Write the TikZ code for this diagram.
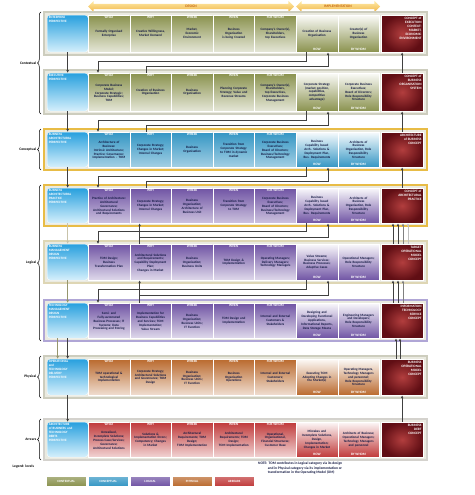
\documentclass[tikz,border=0pt]{standalone}
\usepackage{fontspec}
\setmainfont{Carlito}
\usetikzlibrary{arrows.meta,shapes.arrows,decorations.pathreplacing}

\definecolor{ctx}{RGB}{138,146,78}
\definecolor{cpt}{RGB}{52,150,196}
\definecolor{lgc}{RGB}{112,84,164}
\definecolor{phy}{RGB}{186,106,46}
\definecolor{arr}{RGB}{192,58,58}
\definecolor{navy}{RGB}{18,24,66}
\definecolor{wine}{RGB}{96,14,20}
\definecolor{wineL}{RGB}{178,62,62}
\definecolor{sky}{RGB}{40,160,222}
\definecolor{skyL}{RGB}{214,240,252}
\definecolor{linegray}{RGB}{64,64,64}
\definecolor{gold}{RGB}{232,188,70}
\definecolor{dsgn}{RGB}{196,100,14}
\definecolor{framegray}{RGB}{205,205,190}
\definecolor{framefill}{RGB}{234,234,224}
\definecolor{frbeige}{RGB}{222,214,180}
\definecolor{frlilac}{RGB}{176,166,214}
\definecolor{frlight}{RGB}{212,210,205}
\definecolor{arrpale}{RGB}{200,195,170}
\definecolor{arrolive}{RGB}{150,150,110}
\definecolor{bandtop}{RGB}{255,236,170}
\definecolor{bandbot}{RGB}{240,180,70}

\tikzset{
  cell/.style={draw=white, line width=0.3pt, anchor=north west, minimum width=41.6pt,
    inner sep=0.5pt, text width=39pt, align=center, text=navy,
    font=\fontsize{3.3}{3.8}\selectfont\bfseries},
  tfill/.style={top color=#1, bottom color=#1!22},
  hfill/.style={top color=#1!4, bottom color=#1},
  hdr/.style={anchor=north, inner sep=1.2pt, text=white, font=\fontsize{3.4}{4}\selectfont\bfseries},
  ftr/.style={anchor=south, inner sep=1.2pt, text=white, font=\fontsize{3.4}{4}\selectfont\bfseries},
  persp/.style={anchor=north west, rounded corners=3pt, minimum width=41pt,
    top color=sky, bottom color=skyL, draw=white, line width=0.3pt},
  ptxt/.style={anchor=north west, inner sep=1.6pt, text width=38pt, align=left, text=white,
    font=\fontsize{3.3}{3.9}\selectfont\bfseries},
  concept/.style={anchor=north west, minimum width=42pt, inner color=wineL, outer color=wine,
    draw=white, line width=0.3pt},
  ctxt/.style={anchor=north east, inner sep=1.6pt, align=right, text=white,
    font=\fontsize{3.4}{4.1}\selectfont\bfseries},
  rowbox/.style={draw=#1, line width=1.2pt, fill=framefill},
  conn/.style={draw=linegray, line width=0.7pt},
  tip/.style={-{Latex[length=2.8pt,width=2.6pt]}},
  lvl/.style={text=black, font=\fontsize{3.6}{4.2}\selectfont\bfseries, inner sep=0.5pt},
  lbrace/.style={decorate, decoration={brace, amplitude=3.5pt}, line width=0.5pt},
  lbox/.style={anchor=north west, minimum width=40pt, minimum height=10pt, inner sep=0pt,
    text=white, font=\fontsize{3.2}{3.8}\selectfont\bfseries, draw=white, line width=0.3pt},
  bigarrow/.style={double arrow, double arrow head extend=3pt, minimum width=10pt, inner sep=0.5pt,
    top color=bandtop, bottom color=bandbot, text=dsgn, font=\fontsize{3.6}{4.2}\selectfont\bfseries}
}

\begin{document}
\begin{tikzpicture}[x=1pt, y=-1pt]
\useasboundingbox (0,0) rectangle (474,495);

% design / implementation
\node[bigarrow, minimum height=206pt, text height=3pt, text depth=1pt] (design) at (191,6.5) {DESIGN};
\node[bigarrow, minimum height=84pt, text height=3pt, text depth=1pt] (implem) at (338,6.5) {IMPLEMENTATION};

% row 1 -- enterprise
\draw[rowbox=framegray] (44,12) rectangle (427,55);
\node[persp, minimum height=37pt, label={[ptxt]north west:{ENTERPRISE\\PERSPECTIVE}}] (r1p) at (47,15) {};
\foreach \n/\hd/\txt [count=\i from 0] in {what/WHAT/{Formally Organised\\Enterprise},
    why/WHY/{Creative Willingness,\\Market Demand}, where/WHERE/{Market,\\Economic\\Environment},
    when/WHEN/{Business\\Organisation\\is being Created}, forwhom/FOR WHOM/{Company's Owner(s),\\Shareholders,\\top Executives}}
  \node[cell, tfill=ctx, minimum height=37pt, label={[hdr]north:\hd}] (r1\n) at ({88+41.6*\i},15) {\txt};
\node[cell, hfill=ctx, minimum height=37pt, label={[ftr]south:HOW}] (r1how) at (296,15) {Creation of Business\\Organisation};
\node[cell, hfill=ctx, minimum height=37pt, label={[ftr]south:BY WHOM}] (r1bywhom) at (337.6,15) {Creator(s) of\\Business\\Organisation};
\node[concept, minimum height=37pt, label={[ctxt]north east:{CONCEPT of\\EXECUTION\\CONTEXT:\\MARKET,\\ECONOMIC\\ENVIRONMENT}}] (r1c) at (381,15) {};

% row 2 -- executive
\draw[rowbox=framegray] (44,70) rectangle (427,114);
\node[persp, minimum height=38pt, label={[ptxt]north west:{EXECUTIVE\\PERSPECTIVE}}] (r2p) at (47,73) {};
\foreach \n/\hd/\txt [count=\i from 0] in {what/WHAT/{\\Corporate Business\\Model;\\Corporate Strategic;\\Business Capabilities;\\TOM},
    why/WHY/{Creation of Business\\Organisation}, where/WHERE/{Business\\Organisation},
    when/WHEN/{Planning Corporate\\Strategy; Value and\\Revenue Streams},
    forwhom/FOR WHOM/{\\Company's Owner(s),\\Shareholders,\\top Executives,\\Corporate Business\\Management}}
  \node[cell, tfill=ctx, minimum height=38pt, label={[hdr]north:\hd}] (r2\n) at ({88+41.6*\i},73) {\txt};
\node[cell, hfill=ctx, minimum height=38pt, label={[ftr]south:HOW}] (r2how) at (296,73) {Corporate Strategy\\(market position,\\capabilities,\\competitive\\advantage)\\[3pt]};
\node[cell, hfill=ctx, minimum height=38pt, label={[ftr]south:BY WHOM}] (r2bywhom) at (337.6,73) {Corporate Business\\Executives;\\Board of Directors;\\Role Responsibility\\Structure\\[3pt]};
\node[concept, minimum height=38pt, label={[ctxt]north east:{CONCEPT of\\BUSINESS\\ORGANISATION\\SYSTEM}}] (r2c) at (381,73) {};

% row 3 -- business architectural
\draw[rowbox=gold] (44,129) rectangle (427,170);
\node[persp, minimum height=35pt, label={[ptxt]north west:{BUSINESS\\ARCHITECTURAL\\PERSPECTIVE}}] (r3p) at (47,132) {};
\foreach \n/\hd/\txt [count=\i from 0] in {what/WHAT/{\\Architecture of\\Business:\\Intrinsic Architecture;\\Practice; Governance;\\Implementation -- TOM},
    why/WHY/{Corporate Strategy;\\Changes in Market;\\Internal Changes}, where/WHERE/{Business\\Organisation},
    when/WHEN/{\\Transition from\\Corporate Strategy\\to TOM in dynamic\\market},
    forwhom/FOR WHOM/{\\Corporate Business\\Executives;\\Board of Directors;\\Business/Technology\\Management}}
  \node[cell, top color=cpt, bottom color=cpt!45, minimum height=35pt, label={[hdr]north:\hd}] (r3\n) at ({88+41.6*\i},132) {\txt};
\node[cell, hfill=cpt, minimum height=35pt, label={[ftr]south:HOW}] (r3how) at (296,132) {Business\\Capability based\\Arch. Solutions \&\\Deployment Plan,\\Bus. Requirements\\[3pt]};
\node[cell, hfill=cpt, minimum height=35pt, label={[ftr]south:BY WHOM}] (r3bywhom) at (337.6,132) {Architects of\\Business\\Organisation, Role\\Responsibility\\Structure\\[3pt]};
\node[concept, minimum height=35pt, label={[ctxt]north east:{ARCHITECTURE\\of BUSINESS\\CONCEPT}}] (r3c) at (381,132) {};

% row 4 -- business architectural practice
\draw[rowbox=gold] (44,185) rectangle (427,226);
\node[persp, minimum height=35pt, label={[ptxt]north west:{BUSINESS\\ARCHITECTURAL\\PRACTICE\\PERSPECTIVE}}] (r4p) at (47,188) {};
\foreach \n/\hd/\txt [count=\i from 0] in {what/WHAT/{\\Practice of Architecture:\\Architectural\\Governance;\\Architectural Solutions\\and Requirements},
    why/WHY/{Corporate Strategy;\\Changes in Market;\\Internal Changes},
    where/WHERE/{\\Business\\Organisation;\\Architecture of\\Business Unit},
    when/WHEN/{Transition from\\Corporate Strategy\\to TOM},
    forwhom/FOR WHOM/{\\Corporate Business\\Executives;\\Board of Directors;\\Business/Technology\\Management}}
  \node[cell, top color=lgc, bottom color=lgc!35, minimum height=35pt, label={[hdr]north:\hd}] (r4\n) at ({88+41.6*\i},188) {\txt};
\node[cell, hfill=lgc, minimum height=35pt, label={[ftr]south:HOW}] (r4how) at (296,188) {Business\\Capability based\\Arch. Solutions \&\\Deployment Plan,\\Bus. Requirements\\[3pt]};
\node[cell, hfill=lgc, minimum height=35pt, label={[ftr]south:BY WHOM}] (r4bywhom) at (337.6,188) {Architects of\\Business\\Organisation, Role\\Responsibility\\Structure\\[3pt]};
\node[concept, minimum height=35pt, label={[ctxt]north east:{CONCEPT of\\ARCHITECTURAL\\PRACTICE}}] (r4c) at (381,188) {};

% row 5 -- business management design
\draw[rowbox=frbeige] (44,241) rectangle (427,283);
\node[persp, minimum height=36pt, label={[ptxt]north west:{BUSINESS\\MANAGEMENT\\DESIGN\\PERSPECTIVE}}] (r5p) at (47,244) {};
\foreach \n/\hd/\txt [count=\i from 0] in {what/WHAT/{TOM Design;\\Business\\Transformation Plan},
    why/WHY/{\\Architectural Solutions\\and Requirements;\\Capability Deployment\\Plan;\\Changes in Market},
    where/WHERE/{Business\\Organisation;\\Business Units},
    when/WHEN/{TOM Design \&\\Implementation},
    forwhom/FOR WHOM/{Operating Managers;\\Delivery Managers;\\Technology Managers}}
  \node[cell, tfill=lgc, minimum height=36pt, label={[hdr]north:\hd}] (r5\n) at ({88+41.6*\i},244) {\txt};
\node[cell, hfill=lgc, minimum height=36pt, label={[ftr]south:HOW}] (r5how) at (296,244) {Value Streams;\\Business Services;\\Business Processes;\\Adaptive Cases\\[3pt]};
\node[cell, hfill=lgc, minimum height=36pt, label={[ftr]south:BY WHOM}] (r5bywhom) at (337.6,244) {Operational Managers;\\Role Responsibility\\Structure\\[3pt]};
\node[concept, minimum height=36pt, label={[ctxt]north east:{TARGET\\OPERATIONAL\\MODEL\\CONCEPT}}] (r5c) at (381,244) {};

% row 6 -- technology management design
\draw[rowbox=frlilac] (44,300) rectangle (427,341);
\node[persp, minimum height=35pt, label={[ptxt]north west:{TECHNOLOGY\\MANAGEMENT\\DESIGN\\PERSPECTIVE}}] (r6p) at (47,303) {};
\foreach \n/\hd/\txt [count=\i from 0] in {what/WHAT/{\\Semi- and\\Fully-automated\\Business Processes; IT\\Systems; Data\\Processing and Storing},
    why/WHY/{\\Implementation for\\Business Capabilities\\and Services; TOM\\Implementation;\\Value Stream},
    where/WHERE/{\\Business\\Organisation;\\Business Units;\\IT Function},
    when/WHEN/{TOM Design and\\Implementation},
    forwhom/FOR WHOM/{Internal and External\\Customers \&\\Stakeholders}}
  \node[cell, tfill=lgc, minimum height=35pt, label={[hdr]north:\hd}] (r6\n) at ({88+41.6*\i},303) {\txt};
\node[cell, hfill=lgc, minimum height=35pt, label={[ftr]south:HOW}] (r6how) at (296,303) {Designing and\\Developing Functional\\Applications,\\Informational Reports,\\Data Storage Means\\[3pt]};
\node[cell, hfill=lgc, minimum height=35pt, label={[ftr]south:BY WHOM}] (r6bywhom) at (337.6,303) {Engineering Managers\\and Developers;\\Role Responsibility\\Structure\\[3pt]};
\node[concept, minimum height=35pt, label={[ctxt]north east:{INFORMATION\\TECHNOLOGY\\SERVICE\\CONCEPT}}] (r6c) at (381,303) {};

% row 7 -- operational and technology delivery
\draw[rowbox=framegray] (44,356) rectangle (427,398);
\node[persp, minimum height=36pt, label={[ptxt]north west:{OPERATIONAL\\and\\TECHNOLOGY\\DELIVERY\\PERSPECTIVE}}] (r7p) at (47,359) {};
\foreach \n/\hd/\txt [count=\i from 0] in {what/WHAT/{TOM operational \&\\technological\\Implementation},
    why/WHY/{Corporate Strategy;\\Architectural Solutions\\and Governance; TOM\\Design},
    where/WHERE/{\\Business\\Organisation;\\Business Units;\\IT Function},
    when/WHEN/{Business\\Organisation\\Operations},
    forwhom/FOR WHOM/{Internal and External\\Customers;\\Stakeholders}}
  \node[cell, tfill=phy, minimum height=36pt, label={[hdr]north:\hd}] (r7\n) at ({88+41.6*\i},359) {\txt};
\node[cell, hfill=phy, minimum height=36pt, label={[ftr]south:HOW}] (r7how) at (296,359) {Executing TOM\\Adopting Changes in\\the Market(s)\\[3pt]};
\node[cell, hfill=phy, minimum height=36pt, label={[ftr]south:BY WHOM}] (r7bywhom) at (337.6,359) {Operating Managers,\\Technology Managers\\and personnel;\\Role Responsibility\\Structure\\[3pt]};
\node[concept, minimum height=36pt, label={[ctxt]north east:{BUSINESS\\OPERATIONAL\\MODEL\\CONCEPT}}] (r7c) at (381,359) {};

% row 8 -- debts
\draw[rowbox=frlight] (44,419) rectangle (427,460);
\node[persp, minimum height=35pt, label={[ptxt]north west:{ARCHITECTURE\\of BUSINESS and\\TECHNOLOGY\\DEBTS\\PERSPECTIVE}}] (r8p) at (47,422) {};
\foreach \n/\hd/\txt [count=\i from 0] in {what/WHAT/{\\Unrealised,\\Incomplete Solutions;\\Process Case/Services;\\Governance;\\Architectural Solutions},
    why/WHY/{Solutions \&\\Implementation Errors;\\Competency; Changes\\in Market},
    where/WHERE/{Architectural\\Requirements; TOM\\Design;\\TOM Implementation},
    when/WHEN/{Architectural\\Requirements; TOM\\Design;\\TOM Implementation},
    forwhom/FOR WHOM/{Operational,\\Organisational,\\Financial Structures;\\Customer Base}}
  \node[cell, tfill=arr, minimum height=35pt, label={[hdr]north:\hd}] (r8\n) at ({88+41.6*\i},422) {\txt};
\node[cell, hfill=arr, minimum height=35pt, label={[ftr]south:HOW}] (r8how) at (296,422) {Mistakes and\\Incomplete Solutions,\\Design,\\Implementation;\\Changes in Market\\[3pt]};
\node[cell, hfill=arr, minimum height=35pt, label={[ftr]south:BY WHOM}] (r8bywhom) at (337.6,422) {Architects of Business;\\Operational Managers;\\Technology Managers\\and personnel\\[3pt]};
\node[concept, minimum height=35pt, label={[ctxt]north east:{BUSINESS\\DEBT\\CONCEPT}}] (r8c) at (381,422) {};

% levels
\draw[lbrace] (41,114) -- (41,12) node[lvl, midway, left=4pt] (lvctx) {Contextual};
\draw[lbrace] (41,170) -- (41,129) node[lvl, midway, left=4pt] (lvcpt) {Conceptual};
\draw[lbrace] (41,341) -- (41,185) node[lvl, midway, left=4pt] (lvlgc) {Logical};
\draw[lbrace] (41,398) -- (41,356) node[lvl, midway, left=4pt] (lvphy) {Physical};
\draw[lbrace] (41,460) -- (41,419) node[lvl, midway, left=4pt] (lvarr) {Arrears};

% connectors 1-2
\draw[conn, tip] (r1p) -- (r2p);
\draw[conn, tip] ([xshift=10pt]r1how.south west) -- ++(0,9) -| ([xshift=10pt]r2what.north west);
\draw[conn, tip] ([xshift=17pt]r2why.north west) -- ++(0,-7) -| ([xshift=32pt]r1how.south west);
\draw[conn, tip] (r2c) -- (r1c);
% connectors 2-3
\draw[conn, tip] (r2p) -- (r3p);
\draw[conn, tip] ([xshift=10pt]r2how.south west) -- ++(0,9) -| ([xshift=10pt]r3what.north west);
\draw[conn, tip] ([xshift=17pt]r3why.north west) -- ++(0,-7) -| ([xshift=32pt]r2how.south west);
\draw[conn, tip] (r3c) -- (r2c);
% connectors 3-4
\draw[conn, tip] (r3p) -- (r4p);
\draw[conn, tip] ([xshift=10pt]r3how.south west) -- ++(0,9) -| ([xshift=10pt]r4what.north west);
\draw[conn, tip] ([xshift=17pt]r4why.north west) -- ++(0,-7) -| ([xshift=32pt]r3how.south west);
\draw[conn, tip] (r4c) -- (r3c);
% connectors 4-5
\draw[conn, tip, draw=arrpale] (r4p) -- (r5p);
\draw[conn, tip] ([xshift=10pt]r4how.south west) -- ++(0,8) -| ([xshift=10pt]r5what.north west);
\draw[conn, tip] ([xshift=10pt]r5why.north west) -- ++(0,-7) -| ([xshift=32pt]r4how.south west);
\draw[conn, tip] ([xshift=10pt]r5why.north west) -- ([xshift=10pt]r4why.south west);
\foreach \dx/\shade in {12/linegray, 17/linegray, 22/gray, 27/lightgray}
  \draw[conn, tip, draw=\shade] ([xshift=\dx pt]r5c.north west) -- ([xshift=\dx pt]r4c.south west);
% connectors 5-6
\draw[conn, tip, draw=arrolive] (r5p) -- (r6p);
\draw[conn, tip] ([xshift=10pt]r5how.south west) -- ++(0,9) -| ([xshift=10pt]r6what.north west);
\draw[conn, tip] ([xshift=10pt]r6why.north west) -- ++(0,-8) -| ([xshift=32pt]r5how.south west);
\draw[conn, tip] ([xshift=10pt]r6why.north west) -- ([xshift=10pt]r5why.south west);
\foreach \dx/\shade in {12/linegray, 17/linegray, 22/gray}
  \draw[conn, tip, draw=\shade] ([xshift=\dx pt]r6c.north west) -- ([xshift=\dx pt]r5c.south west);
% connectors 6-7
\draw[conn, tip, draw=arrolive] ([xshift=-10pt]r6p.south) -- ([xshift=-10pt]r7p.north);
\draw[conn, tip] (r6p) -- (r7p);
\foreach \dx in {15,19}
  \draw[conn, tip] ([xshift=\dx pt]r7c.north west) -- ([xshift=\dx pt]r6c.south west);
% connectors 7-8
\draw[conn, tip] (r7p) -- (r8p);
\draw[conn, tip] (r8c) -- (r7c);

% legend
\node[lvl, anchor=west] (legtitle) at (12,467) {Legend: levels};
\node[lbox, top color=ctx!70, bottom color=ctx] (lgctx) at (46,476) {CONTEXTUAL};
\node[lbox, top color=cpt!70, bottom color=cpt] (lgcpt) at (88,476) {CONCEPTUAL};
\node[lbox, top color=lgc!70, bottom color=lgc] (lglgc) at (130,476) {LOGICAL};
\node[lbox, top color=phy!70, bottom color=phy] (lgphy) at (172,476) {PHYSICAL};
\node[lbox, top color=arr!70, bottom color=arr] (lgarr) at (214,476) {ARREARS};
\node[anchor=north west, inner sep=0pt, text=navy, font=\fontsize{3.6}{4.6}\selectfont\bfseries] (notehd) at (258,462) {NOTE:};
\node[anchor=north west, inner sep=0pt, text=navy, align=left, font=\fontsize{3.6}{4.6}\selectfont\bfseries] (notetxt) at (notehd.north east) {\ TOM contributes in Logical category via its design\\ and in Physical category via its implementation or\\ transformation in the Operating Model (OM)};
\end{tikzpicture}
\end{document}
